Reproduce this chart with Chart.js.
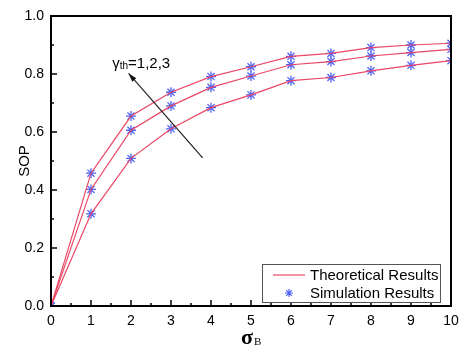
<!DOCTYPE html>
<html><head><meta charset="utf-8">
<script src="https://cdn.jsdelivr.net/npm/chart.js@4/dist/chart.umd.min.js"></script>
<style>html,body{margin:0;padding:0;background:#fff}#wrap{width:474px;height:355px}</style>
</head><body><div id="wrap"><canvas id="c" width="474" height="355"></canvas></div>
<script>
const sigmaB = [0,1,2,3,4,5,6,7,8,9,10];
const sopGamma1 = [0,0.458,0.655,0.737,0.791,0.825,0.861,0.871,0.891,0.900,0.906];
const sopGamma2 = [0,0.402,0.606,0.690,0.754,0.793,0.832,0.843,0.862,0.874,0.885];
const sopGamma3 = [0,0.318,0.509,0.611,0.684,0.728,0.777,0.788,0.811,0.830,0.846];
const yTicks = [0,0.2,0.4,0.6,0.8,1.0];
const xTicks = [0,1,2,3,4,5,6,7,8,9,10];
const legendLabels = ["Theoretical Results","Simulation Results"];
const annotationText = ["γ","th","=1,2,3"];
const arrowFrom = {x:3.79, y:0.511};
const arrowTo = {x:1.94, y:0.802};

const FONT = "'Liberation Sans', Arial, sans-serif";
const lineColor = "rgb(235,70,100)";
const markColor = "rgb(80,100,245)";
const pts = a => sigmaB.map((x,i)=>({x, y:a[i]}));
const series = [sopGamma1, sopGamma2, sopGamma3];
const datasets = [];
series.forEach(s => datasets.push({type:'line', data:pts(s), borderColor:lineColor, borderWidth:1.2, pointRadius:0, tension:0, fill:false}));
series.forEach(s => datasets.push({type:'line', data:pts(s), showLine:false, pointStyle:'star', pointRadius:5, borderColor:markColor, backgroundColor:markColor, pointBorderWidth:1.3}));

const decor = {
  id:'decor',
  afterDraw(chart){
    const {ctx, chartArea:a, scales:{x, y}} = chart;
    ctx.save();
    ctx.strokeStyle = '#000'; ctx.lineWidth = 2;
    ctx.strokeRect(a.left, a.top, a.right-a.left, a.bottom-a.top);
    ctx.lineWidth = 1.5;
    ctx.beginPath();
    for (let v=0; v<=10.001; v+=0.5){
      const px = Math.round(x.getPixelForValue(v));
      const L = (Math.abs(v-Math.round(v))<1e-6) ? 6 : 3;
      ctx.moveTo(px, a.bottom); ctx.lineTo(px, a.bottom-L);
    }
    for (let v=0; v<=1.0001; v+=0.1){
      const py = Math.round(y.getPixelForValue(v));
      const major = Math.abs(v*5-Math.round(v*5))<1e-6;
      const L = major ? 6 : 3;
      ctx.moveTo(a.left, py); ctx.lineTo(a.left+L, py);
    }
    ctx.stroke();

    // axis titles
    ctx.fillStyle = '#000';
    ctx.save();
    ctx.translate(25, (a.top+a.bottom)/2);
    ctx.rotate(-Math.PI/2);
    ctx.font = "15px " + FONT; ctx.textAlign='center'; ctx.textBaseline='middle';
    ctx.fillText("SOP", 0, 0);
    ctx.restore();
    ctx.font = "bold 22px 'Liberation Serif', serif"; ctx.textAlign='left'; ctx.textBaseline='alphabetic';
    const cx = (a.left+a.right)/2 - 4;
    ctx.fillText("σ", cx-6, 344);
    ctx.font = "11px 'Liberation Serif', serif";
    ctx.fillText("B", cx+7, 345);

    // arrow annotation
    const x1 = x.getPixelForValue(arrowFrom.x), y1 = y.getPixelForValue(arrowFrom.y);
    const x2 = x.getPixelForValue(arrowTo.x), y2 = y.getPixelForValue(arrowTo.y);
    ctx.strokeStyle = '#222'; ctx.lineWidth = 1.2;
    ctx.beginPath(); ctx.moveTo(x1,y1); ctx.lineTo(x2,y2); ctx.stroke();
    const ang = Math.atan2(y2-y1, x2-x1);
    ctx.fillStyle = '#111';
    ctx.beginPath();
    ctx.moveTo(x2,y2);
    ctx.lineTo(x2-9*Math.cos(ang-0.3), y2-9*Math.sin(ang-0.3));
    ctx.lineTo(x2-9*Math.cos(ang+0.3), y2-9*Math.sin(ang+0.3));
    ctx.closePath(); ctx.fill();
    // label
    let tx = x.getPixelForValue(1.53), ty = y.getPixelForValue(0.822);
    ctx.fillStyle='#000'; ctx.textBaseline='alphabetic'; ctx.textAlign='left';
    ctx.font = "15px " + FONT;
    ctx.fillText(annotationText[0], tx, ty); tx += ctx.measureText(annotationText[0]).width;
    ctx.font = "10px " + FONT;
    ctx.fillText(annotationText[1], tx, ty+1); tx += ctx.measureText(annotationText[1]).width;
    ctx.font = "15px " + FONT;
    ctx.fillText(annotationText[2], tx, ty);

    // legend
    const lx = 262, ly = 264, lw = 178, lh = 38;
    ctx.fillStyle='#fff'; ctx.fillRect(lx,ly,lw,lh);
    ctx.strokeStyle='#555'; ctx.lineWidth=1; ctx.strokeRect(lx+0.5,ly+0.5,lw,lh);
    ctx.strokeStyle=lineColor; ctx.lineWidth=1.2;
    ctx.beginPath(); ctx.moveTo(273,275); ctx.lineTo(305,275); ctx.stroke();
    ctx.strokeStyle=markColor; ctx.lineWidth=1.2;
    const mx=289, my=293, r=4;
    ctx.beginPath();
    for (let k=0;k<4;k++){const t=k*Math.PI/4; ctx.moveTo(mx-r*Math.cos(t),my-r*Math.sin(t)); ctx.lineTo(mx+r*Math.cos(t),my+r*Math.sin(t));}
    ctx.stroke();
    ctx.fillStyle='#000'; ctx.font = "15px " + FONT; ctx.textBaseline='middle';
    ctx.fillText(legendLabels[0], 310, 276);
    ctx.fillText(legendLabels[1], 310, 294);
    ctx.restore();
  }
};

new Chart(document.getElementById('c'), {
  data:{datasets},
  options:{
    responsive:false, animation:false, devicePixelRatio:1,
    layout:{padding:{left:0, top:16, right:23, bottom:0}},
    plugins:{legend:{display:false}, tooltip:{enabled:false}},
    scales:{
      x:{type:'linear', min:0, max:10,
        afterBuildTicks(s){ s.ticks = xTicks.map(v=>({value:v})); },
        afterFit(s){ s.height = 49; },
        grid:{display:false, drawTicks:false}, border:{display:false},
        ticks:{color:'#000', padding:7, font:{family:FONT, size:14}, maxRotation:0, callback:v=>String(v)}},
      y:{type:'linear', min:0, max:1,
        afterBuildTicks(s){ s.ticks = yTicks.map(v=>({value:v})); },
        afterFit(s){ s.width = 51; },
        grid:{display:false, drawTicks:false}, border:{display:false},
        ticks:{color:'#000', padding:7, font:{family:FONT, size:14}, callback:v=>Number(v).toFixed(1)}}
    }
  },
  plugins:[decor]
});
</script></body></html>
